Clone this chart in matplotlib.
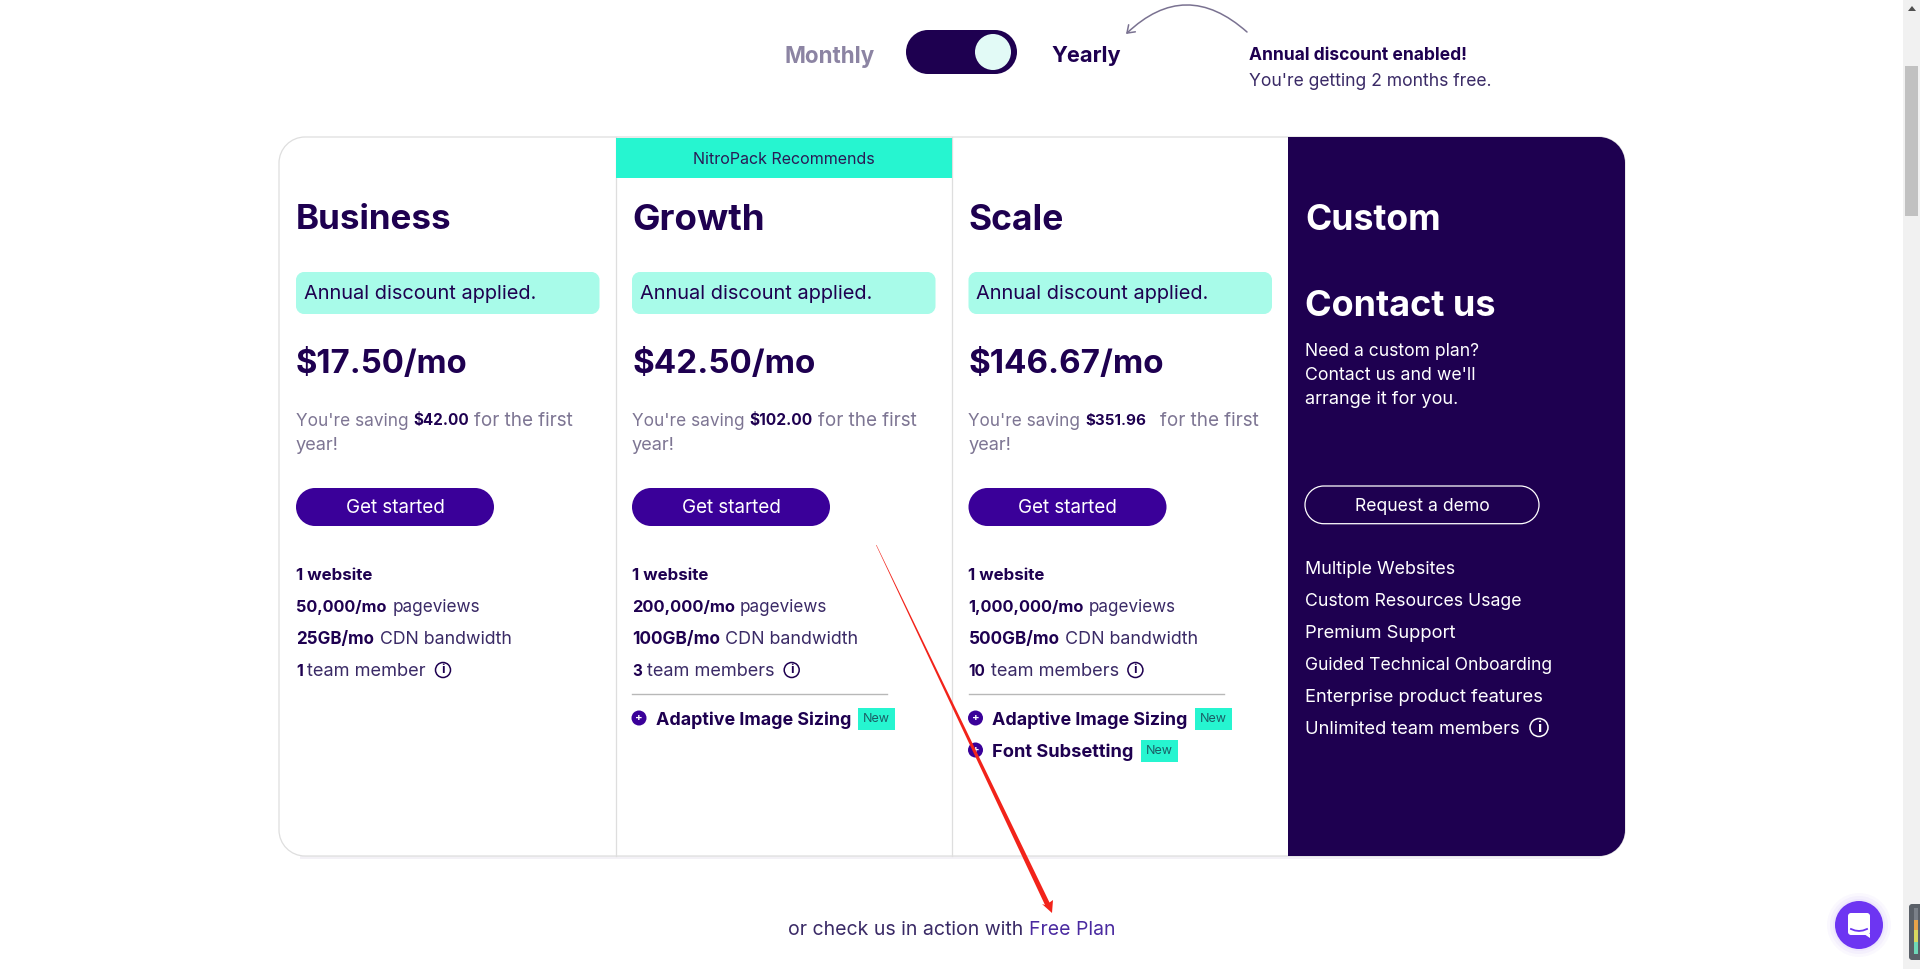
import matplotlib
matplotlib.use("Agg")
import matplotlib.pyplot as plt
from matplotlib.path import Path
from matplotlib.patches import PathPatch, Rectangle, Circle, Polygon, FancyArrowPatch

# ---- data ----
plans = ["Business", "Growth", "Scale"]
prices = ["$17.50/mo", "$42.50/mo", "$146.67/mo"]
savings = ["$42.00", "$102.00", "$351.96"]
websites = ["1 website", "1 website", "1 website"]
pageviews = ["50,000/mo", "200,000/mo", "1,000,000/mo"]
bandwidth = ["25GB/mo", "100GB/mo", "500GB/mo"]
members = ["1", "3", "10"]
member_words = ["team member", "team members", "team members"]
extras = [[], ["Adaptive Image Sizing"], ["Adaptive Image Sizing", "Font Subsetting"]]
custom_title = "Custom"
custom_head = "Contact us"
custom_lines = ["Need a custom plan?", "Contact us and we'll", "arrange it for you."]
custom_features = ["Multiple Websites", "Custom Resources Usage", "Premium Support",
                   "Guided Technical Onboarding", "Enterprise product features",
                   "Unlimited team members"]

# ---- style ----
DARK = "#1E0050"
GRAY = "#7D7593"
BTN = "#3A0099"
TEAL = "#26F5D0"
MINT = "#A8FBE9"
LINE = "#DEDEDE"
FONT = ["Inter", "DejaVu Sans"]

plt.rcParams["font.family"] = FONT
fig = plt.figure(figsize=(19.2, 9.69), dpi=100, facecolor="white")
ax = fig.add_axes([0, 0, 1, 1])
ax.set_xlim(0, 1920)
ax.set_ylim(969, 0)
ax.axis("off")
renderer = fig.canvas.get_renderer()


def label(x, y, s, width, color=DARK, weight="normal", z=10, ha="left"):
    """Real text, centred vertically on y, sized so that it spans `width` pixels."""
    t = ax.text(x, y - 1, s, color=color, fontweight=weight, va="center_baseline", ha=ha,
                fontsize=12, zorder=z)
    w = t.get_window_extent(renderer).width
    t.set_fontsize(12 * width / w)
    return t


def rbox(x0, y0, x1, y1, r, fc, ec="none", lw=0, z=2):
    """Rounded rectangle with true circular corners."""
    k = r * 0.5523
    verts = [(x0 + r, y0), (x1 - r, y0),
             (x1 - r + k, y0), (x1, y0 + r - k), (x1, y0 + r),
             (x1, y1 - r),
             (x1, y1 - r + k), (x1 - r + k, y1), (x1 - r, y1),
             (x0 + r, y1),
             (x0 + r - k, y1), (x0, y1 - r + k), (x0, y1 - r),
             (x0, y0 + r),
             (x0, y0 + r - k), (x0 + r - k, y0), (x0 + r, y0),
             (x0 + r, y0)]
    codes = [Path.MOVETO, Path.LINETO, Path.CURVE4, Path.CURVE4, Path.CURVE4, Path.LINETO,
             Path.CURVE4, Path.CURVE4, Path.CURVE4, Path.LINETO,
             Path.CURVE4, Path.CURVE4, Path.CURVE4, Path.LINETO,
             Path.CURVE4, Path.CURVE4, Path.CURVE4, Path.CLOSEPOLY]
    p = PathPatch(Path(verts, codes), fc=fc, ec=ec, lw=lw, zorder=z)
    ax.add_patch(p)
    return p


def info(x, y, r, color):
    ax.add_patch(Circle((x, y), r, fc="none", ec=color, lw=1.1, zorder=10))
    ax.text(x, y + 0.3, "i", color=color, fontsize=r * 1.2, fontweight="bold", ha="center",
            va="center", zorder=11)


# ---- toggle header ----
label(784, 55, "Monthly", 90, color="#8C84A3", weight="bold")
rbox(906, 30, 1017, 74, 22, DARK)
ax.add_patch(Circle((993, 52), 18, fc="#E2FAF6", ec="none", zorder=3))
label(1051, 55, "Yearly", 69, weight="bold")
ax.add_patch(FancyArrowPatch((1247, 32), (1126, 34), connectionstyle="arc3,rad=0.46",
                             arrowstyle="->,head_length=5,head_width=3.5", color="#7A7291",
                             lw=1.1, shrinkA=0, shrinkB=0, zorder=4))
label(1249, 54, "Annual discount enabled!", 217, weight="bold")
label(1249, 80, "You're getting 2 months free.", 243, color="#3A2A66")

# ---- card ----
ax.add_patch(Rectangle((300, 856), 1300, 3, fc="#F3F1F6", ec="none", zorder=0.5))
card = rbox(279, 137, 1625, 856, 26, "white", ec=LINE, lw=0.9, z=1)
panel = Rectangle((1288, 136), 338, 721, fc=DARK, ec="none", zorder=2)
ax.add_patch(panel)
panel.set_clip_path(card)
for xd in (615.5, 952):
    ax.plot([xd, xd], [137, 856], color=LINE, lw=0.9, zorder=1.5)
ax.add_patch(Rectangle((616, 138), 336, 40, fc=TEAL, ec="none", zorder=3))
label(693, 158.5, "NitroPack Recommends", 182, color="#2A1A55")

# ---- plan columns ----
xs = [296, 632, 968.5]
head_w = [155.5, 132, 95]
price_w = [172, 183.5, 196]
save_x = [(413, 55.5, 474.5), (749, 63, 818), (1085, 61, 1160)]
view_x = [(91, 392.4, 87.6), (103, 739.4, 87.4), (115.8, 1089, 87)]
band_x = [(78, 379.7, 132.3), (88, 724.7, 133.3), (91, 1064.6, 133.4)]
mem_x = [(307, 119, 443), (647, 128, 791.7), (991, 128.5, 1135.4)]
num_w = [7, 10, 17]

for i, x in enumerate(xs):
    label(x, 217.5, plans[i], head_w[i], weight="bold")
    rbox(x, 272, x + 303.5, 314, 8, MINT, z=3)
    label(x + 8, 293, "Annual discount applied.", 232.5)
    label(x, 362, prices[i], price_w[i], weight="bold")
    sx, sw, fx = save_x[i]
    label(x, 420.5, "You're saving", sx - x - 5, color=GRAY)
    label(sx, 420.5, savings[i], sw, weight="bold")
    label(fx, 420.5, "for the first", 99, color=GRAY)
    label(x, 445, "year!", 43, color=GRAY)
    rbox(x, 488, x + 198, 526, 19, BTN, z=3)
    label(x + 99, 507, "Get started", 99.5, color="white", ha="center")
    label(x, 574.7, websites[i], 76.5, weight="bold")
    vw, vx, vw2 = view_x[i]
    label(x, 606.7, pageviews[i], vw, weight="bold")
    label(vx, 606.7, "pageviews", vw2, color="#3A2A66")
    bw, bx, bw2 = band_x[i]
    label(x, 638.7, bandwidth[i], bw, weight="bold")
    label(bx, 638.7, "CDN bandwidth", bw2, color="#3A2A66")
    mx, mw, ix = mem_x[i]
    label(x, 670.7, members[i], num_w[i], weight="bold")
    label(mx, 670.7, member_words[i], mw, color="#3A2A66")
    info(ix, 670, 7.5, DARK)

# ---- separators and "New" feature rows ----
extra_rows = [719, 751]
extra_w = {"Adaptive Image Sizing": 194.5, "Font Subsetting": 141}
for i, names in enumerate(extras):
    x = xs[i]
    if names:
        ax.plot([x, x + 255], [694, 694], color="#B8B8B8", lw=1.0, zorder=4)
    for yr, name in zip(extra_rows, names):
        ax.add_patch(Circle((x + 7, yr - 1), 7.5, fc=BTN, ec="none", zorder=5))
        ax.text(x + 7, yr - 1, "+", color="white", fontsize=8, fontweight="bold", ha="center",
                va="center", zorder=6)
        w = extra_w[name]
        label(x + 24, yr, name, w, weight="bold")
        bx0 = x + 24 + w + 7.5
        ax.add_patch(Rectangle((bx0, yr - 11), 37, 22, fc=TEAL, ec="none", zorder=5))
        label(bx0 + 18.5, yr, "New", 27, color="#1B5E66", ha="center", z=6)

# ---- custom panel ----
label(1305, 218, custom_title, 135, color="white", weight="bold")
label(1305, 304, custom_head, 190, color="white", weight="bold")
for yl, s, w in zip([350.7, 374.7, 398.7], custom_lines, [174.5, 170.5, 153.5]):
    label(1305, yl, s, w, color="white")
rbox(1305, 486, 1539, 523.7, 18.8, "none", ec="white", lw=0.9, z=4)
label(1422.5, 505.5, "Request a demo", 135, color="white", ha="center")
feat_w = [150.5, 216.5, 151, 247, 239.5, 215.5]
for k, (s, w) in enumerate(zip(custom_features, feat_w)):
    label(1305, 568 + 32.15 * k, s, w, color="white")
info(1539, 727.5, 9, "white")

# ---- footer ----
label(788, 929, "or check us in action with", 235, color="#3A2A66")
label(1029, 929, "Free Plan", 86, color="#4A2AA0")

# ---- red annotation arrow ----
ax.add_patch(Polygon([(876, 545), (876.5, 545), (1049.5, 902.5), (1053, 900), (1052, 913),
                      (1042, 904), (1045, 905)], closed=True, fc="#F2231A", ec="none", zorder=8))

# ---- scrollbar and floating widgets ----
ax.add_patch(Rectangle((1903, 0), 17, 969, fc="#F1F1F1", ec="none", zorder=1))
ax.add_patch(Rectangle((1905, 66), 13, 150, fc="#C1C1C1", ec="none", zorder=2))
ax.add_patch(Polygon([(1908, 11), (1916, 11), (1912, 6)], closed=True, fc="#505050", ec="none", zorder=2))
for rg, a in ((32, 0.03), (29, 0.04), (26, 0.05)):
    ax.add_patch(Circle((1859, 925), rg, fc="#6B35F0", ec="none", alpha=a, zorder=3))
ax.add_patch(Circle((1859, 925), 24, fc="#6D35F2", ec="none", zorder=4))
rbox(1848, 913, 1870, 935, 3, "white", z=5)
ax.add_patch(Polygon([(1864, 934), (1870, 934), (1870, 938)], closed=True, fc="white", ec="none", zorder=5))
ax.plot([1851, 1855, 1859, 1863, 1867], [929, 930.5, 931, 930.5, 929], color="#6D35F2", lw=1.3, zorder=6)
rbox(1909, 904, 1924, 960, 3, "#5A6068", z=3)
ax.add_patch(Rectangle((1914, 908), 4, 12, fc="#7A8088", ec="none", zorder=4))
ax.add_patch(Rectangle((1914, 920), 4, 10, fc="#E8A24A", ec="none", zorder=4))
ax.add_patch(Rectangle((1914, 930), 4, 12, fc="#D8D860", ec="none", zorder=4))
ax.add_patch(Rectangle((1914, 942), 4, 12, fc="#6FD8B8", ec="none", zorder=4))

fig.savefig("out.png", dpi=100, facecolor="white")
